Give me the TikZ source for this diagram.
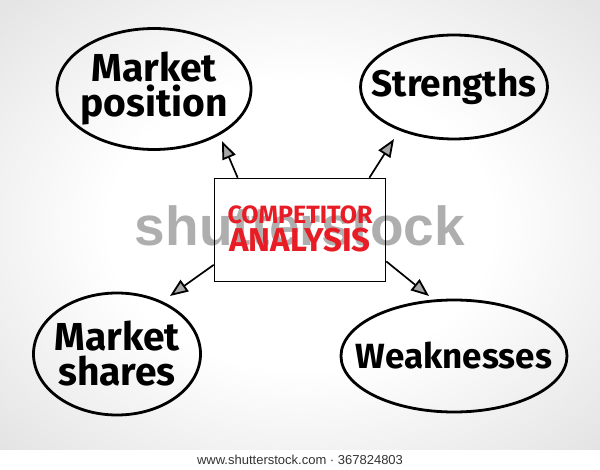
\documentclass[tikz,border=0pt]{standalone}
\usepackage{fontspec}
\setmainfont{Liberation Sans}
\setsansfont{Fira Sans}
\usetikzlibrary{shapes.geometric,arrows.meta}
\pgfdeclareradialshading{paper}{\pgfpoint{0bp}{0bp}}{color(0bp)=(white); color(16bp)=(white); color(50bp)=(black!19)}
\definecolor{marker}{RGB}{232,28,36}

\begin{document}
\begin{tikzpicture}[x=1pt,y=-1pt,
    bubble/.style={ellipse,draw,line width=2.8pt,inner sep=0pt},
    topic/.style={align=center,inner sep=0pt,font=\sffamily\bfseries\fontsize{39}{35}\selectfont},
    arrow/.style={line width=1.7pt,-{Triangle[length=18pt,width=14pt,line width=1.8pt,fill=black!35]}}]
  \useasboundingbox (0,0) rectangle (600,470);
  \shade[shading=paper] (0,0) rectangle (600,450);
  \fill[white] (0,450) rectangle (600,470);

  % the four topics
  \node [bubble,minimum width=194,minimum height=121] (mpos) at (154,89) {};
  \node [topic] (mpostext) at (mpos.center) {Market\\position};
  \node [bubble,minimum width=187,minimum height=104] (str) at (454,87) {};
  \node [topic,font=\sffamily\bfseries\fontsize{37}{37}\selectfont] (strtext) at (str.center) {Strengths};
  \node [bubble,minimum width=167,minimum height=122] (mshr) at (117,354) {};
  \node [topic] (mshrtext) at (mshr.center) {Market\\shares};
  \node [bubble,minimum width=226,minimum height=112] (weak) at (454,356) {};
  \node [topic,font=\sffamily\bfseries\fontsize{35}{35}\selectfont] (weaktext) at (weak.center) {Weaknesses};

  % watermark, under the marker text
  \node [text=black!75,opacity=0.42,font=\bfseries\fontsize{55}{55}\selectfont] (mark) at (300,226) {shutterstock};

  % centre box
  \node [draw,line width=1.6pt,minimum width=171,minimum height=103,inner sep=0pt] (box) at (300,230) {};
  \node [align=center,inner sep=0pt,text=marker,font=\sffamily\bfseries] (boxtext) at (300,229)
        {\fontsize{25}{30}\selectfont COMPETITOR\\[3pt]\fontsize{33}{33}\selectfont ANALYSIS};

  % arrow tips
  \coordinate (mpostip) at (222,141);
  \coordinate (strtip) at (394,139);
  \coordinate (mshrtip) at (170,296);
  \coordinate (weaktip) at (429,296);

  \draw [arrow] (box.140) -- (mpostip);
  \draw [arrow] (box.37) -- (strtip);
  \draw [arrow] (box.202) -- (mshrtip);
  \draw [arrow] (box.-20) -- (weaktip);

  % credit line
  \node [text=black!80,font=\fontsize{13}{13}\selectfont] (credit) at (300,460) {www.shutterstock.com · 367824803};
\end{tikzpicture}
\end{document}
